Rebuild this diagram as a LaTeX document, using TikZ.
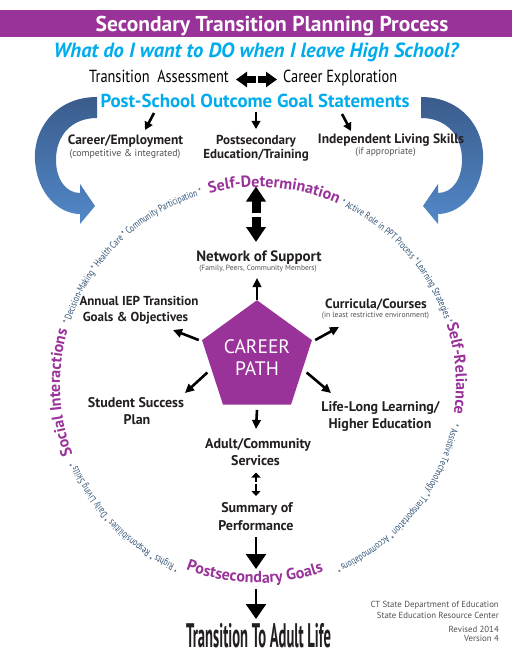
\documentclass[tikz,border=0pt]{standalone}
\usepackage{graphicx}
\usepackage{fontspec}
\setmainfont{PT Sans}
\newfontfamily\condfont[FakeStretch=0.75]{PT Sans}
\newfontfamily\narrowfont[FakeStretch=0.82]{PT Sans}
\usetikzlibrary{shapes.geometric,arrows.meta,decorations.text}
\definecolor{cpurple}{RGB}{153,51,153}
\definecolor{ccyan}{RGB}{0,172,236}
\definecolor{ringblue}{RGB}{45,80,115}
\definecolor{darktext}{RGB}{35,31,32}
\definecolor{subgray}{RGB}{80,80,82}
\definecolor{bluetop}{RGB}{58,92,140}
\definecolor{bluebot}{RGB}{82,136,200}
\newcommand\ringbig{\bfseries\fontsize{16}{18}\selectfont\color{cpurple}}
\newcommand\ringsmall{\condfont\fontsize{10}{11}\selectfont\color{ringblue}}
\tikzset{
  lbl/.style={font=\bfseries\fontsize{13.5}{16}\selectfont, text=darktext, inner sep=0pt, anchor=base},
  sublbl/.style={font=\fontsize{9.8}{11}\selectfont, text=subgray, inner sep=0pt, anchor=base},
  tinylbl/.style={font=\fontsize{7.5}{9}\selectfont, text=subgray, inner sep=0pt, anchor=base},
  sarr/.style={line width=2.6pt, -{Triangle[length=8pt,width=8.5pt]}},
  parr/.style={line width=2.6pt, -{Triangle[length=9pt,width=8.5pt]}},
  blockarr/.style={line width=9pt, -{Triangle[length=15pt,width=19pt]}},
  midarr/.style={line width=7pt, -{Triangle[length=11pt,width=15pt]}},
  bigdown/.style={line width=2.6pt, -{Triangle[length=15pt,width=20pt]}},
  smalldbl/.style={line width=2pt, -{Triangle[length=5pt,width=9pt]}},
  ringdec/.style={decorate, decoration={text along path, text align=center, text={#1}}},
  footer/.style={font=\fontsize{8.8}{10}\selectfont, text=subgray, inner sep=0pt, anchor=base east}
}
\begin{document}
\begin{tikzpicture}[x=1pt,y=1pt]
\useasboundingbox (0,0) rectangle (512,-663);
\fill[white] (0,0) rectangle (512,-663);

% banner
\fill[cpurple] (0,-10) rectangle (512,-37);
\node[font=\bfseries\fontsize{21.5}{24}\selectfont, text=white, inner sep=0pt, anchor=base] (title) at (272,-31.8) {Secondary Transition Planning Process};

% question
\node[font=\bfseries\itshape\fontsize{20.5}{23}\selectfont, text=ccyan, inner sep=0pt, anchor=base] (question) at (256,-57.3) {What do I want to DO when I leave High School?};

% assessment / exploration
\node[font=\narrowfont\fontsize{17.5}{20}\selectfont, text=black, inner sep=0pt, anchor=base east] (ta) at (229,-82.5) {Transition\ \ Assessment};
\node[font=\narrowfont\fontsize{17.5}{20}\selectfont, text=black, inner sep=0pt, anchor=base west] (cx) at (283,-82.5) {Career Exploration};
\coordinate (dblmid) at (256.5,-79.5);
\coordinate (dblL) at (236,-79.5);
\coordinate (dblR) at (277,-79.5);
\draw[midarr] ([xshift=-1pt]dblmid) -- (dblL);
\draw[midarr] ([xshift=1pt]dblmid) -- (dblR);

% post-school
\node[font=\bfseries\fontsize{18.8}{21}\selectfont, text=ccyan, inner sep=0pt, anchor=base] (ps) at (255,-107.3) {Post-School Outcome Goal Statements};

% blue curved arrows
\shade[top color=bluetop, bottom color=bluebot]
  (97,-97) .. controls (55,-97) and (33,-130) .. (35,-160)
  .. controls (37,-195) and (60,-214) .. (80,-214)
  -- (80,-224) -- (95,-206) -- (80,-184) -- (80,-193)
  .. controls (65,-193) and (56,-178) .. (56,-160)
  .. controls (56,-135) and (72,-118) .. (97,-118) -- cycle;
\shade[top color=bluetop, bottom color=bluebot]
  (421,-97) .. controls (463,-97) and (485,-130) .. (483,-160)
  .. controls (481,-195) and (458,-214) .. (438,-214)
  -- (438,-224) -- (423,-206) -- (438,-184) -- (438,-193)
  .. controls (453,-193) and (462,-178) .. (462,-160)
  .. controls (462,-135) and (446,-118) .. (421,-118) -- cycle;

% three outcome labels
\node[lbl] (ce) at (125.5,-145) {Career/Employment};
\node[sublbl] (cesub) at (125,-157) {(competitive \& integrated)};
\node[lbl, font=\bfseries\fontsize{13}{15}\selectfont] (pe1) at (256,-145) {Postsecondary};
\node[lbl, font=\bfseries\fontsize{13}{15}\selectfont] (pe2) at (256,-158) {Education/Training};
\node[lbl] (ils) at (391,-144) {Independent Living Skills};
\node[sublbl, font=\fontsize{9.5}{11}\selectfont] (ilssub) at (385.5,-155) {(if appropriate)};

\coordinate (a1t) at (154,-113);
\coordinate (a1h) at (145,-130);
\coordinate (a2t) at (256,-112);
\coordinate (a2h) at (256,-129);
\coordinate (a3t) at (342,-114);
\coordinate (a3h) at (351,-131);
\draw[sarr] (a1t) -- (a1h);
\draw[sarr] (a2t) -- (a2h);
\draw[sarr] (a3t) -- (a3h);

% ring texts
\coordinate (c) at (258,-385);
\def\R{198}
\path[ringdec={|\ringbig|Self-Determination}] (c) ++(108:\R) arc[start angle=108,end angle=62.5,radius=\R];
\path[ringdec={|\ringsmall|* Active Role in PPT Process * Learning Strategies *}] (c) ++(66:\R) arc[start angle=66,end angle=17.4,radius=\R];
\path[ringdec={|\ringbig|Self-Reliance}] (c) ++(21:\R) arc[start angle=21,end angle=-11.6,radius=\R];
\path[ringdec={|\ringsmall|* Assistive Technology * Transportation * Accommodations *}] (c) ++(-8:\R) arc[start angle=-8,end angle=-70,radius=\R];
\path[ringdec={|\ringbig|Postsecondary Goals}] (c) ++(-115:\R) arc[start angle=-115,end angle=-67,radius=\R];
\path[ringdec={|\ringsmall|* Rights * Responsibilities * Daily Living Skills *}] (c) ++(249:\R) arc[start angle=249,end angle=200.3,radius=\R];
\path[ringdec={|\ringbig|Social Interactions}] (c) ++(204:\R) arc[start angle=204,end angle=160.5,radius=\R];
\path[ringdec={|\ringsmall|* Decision-Making * Health Care * Community Participation *}] (c) ++(164.2:\R) arc[start angle=164.2,end angle=104.5,radius=\R];

% self-determination / network double block arrow
\coordinate (sdtip) at (256,-186.5);
\coordinate (nettip) at (256,-242);
\coordinate (sdmid) at (256,-215);
\draw[blockarr] ([yshift=2pt]sdmid) -- (sdtip);
\draw[blockarr] ([yshift=-2pt]sdmid) -- (nettip);

% network
\node[lbl, font=\bfseries\fontsize{15}{17}\selectfont] (net) at (259,-261) {Network of Support};
\node[tinylbl] (netsub) at (258,-270) {(Family, Peers, Community Members)};

% pentagon
\node[regular polygon, regular polygon sides=5, minimum size=92pt, inner sep=0pt, fill=cpurple,
      text=white, align=center, font=\fontsize{19.5}{22}\selectfont] (cp) at (257,-358) {CAREER\\PATH};

% surrounding labels
\node[lbl, font=\bfseries\fontsize{13}{15}\selectfont] (aiep1) at (139,-305) {Annual IEP Transition};
\node[lbl, font=\bfseries\fontsize{13}{15}\selectfont] (aiep2) at (135.5,-321) {Goals \& Objectives};
\node[lbl] (cc) at (376,-308) {Curricula/Courses};
\node[tinylbl, font=\fontsize{7.7}{8}\selectfont] (ccsub) at (375.5,-317) {(in least restrictive environment)};
\node[lbl, font=\bfseries\fontsize{14}{16}\selectfont] (ssp1) at (136,-407) {Student Success};
\node[lbl, font=\bfseries\fontsize{14}{16}\selectfont] (ssp2) at (137,-424) {Plan};
\node[lbl, font=\bfseries\fontsize{14}{16}\selectfont] (lll1) at (380.5,-411) {Life-Long Learning/};
\node[lbl, font=\bfseries\fontsize{14}{16}\selectfont] (lll2) at (380,-428) {Higher Education};
\node[lbl, font=\bfseries\fontsize{14}{16}\selectfont] (acs1) at (258,-448) {Adult/Community};
\node[lbl, font=\bfseries\fontsize{14}{16}\selectfont] (acs2) at (255.5,-465) {Services};
\node[lbl, font=\bfseries\fontsize{14}{16}\selectfont] (sop1) at (257,-512) {Summary of};
\node[lbl, font=\bfseries\fontsize{14}{16}\selectfont] (sop2) at (256,-530) {Performance};

% arrows from career path
\coordinate (tipN) at (257,-278);
\coordinate (tipUL) at (173,-330);
\coordinate (tipLL) at (185,-393);
\coordinate (tipUR) at (339,-327);
\coordinate (tipLR) at (331,-393);
\coordinate (tipS) at (256,-429);
\draw[parr] (cp.corner 1) -- (tipN);
\draw[parr] ([xshift=-3pt]cp.corner 2) -- (tipUL);
\draw[parr] ([xshift=-5pt]cp.side 2) -- (tipLL);
\draw[parr] ([xshift=3pt]cp.corner 5) -- (tipUR);
\draw[parr] ([xshift=5pt]cp.side 4) -- (tipLR);
\draw[parr] ([yshift=-5pt]cp.side 3) -- (tipS);

% adult services <-> summary
\coordinate (smid) at (256,-482.5);
\coordinate (stop) at (256,-472.5);
\coordinate (sbot) at (256,-496);
\draw[smalldbl] ([yshift=1pt]smid) -- (stop);
\draw[smalldbl] ([yshift=-1pt]smid) -- (sbot);

% down arrows
\coordinate (d1t) at (256,-537);
\coordinate (d1h) at (256,-569);
\coordinate (d2t) at (256,-589);
\coordinate (d2h) at (256,-619);
\draw[bigdown] (d1t) -- (d1h);
\draw[bigdown] (d2t) -- (d2h);

\node[inner sep=0pt, anchor=base, text=darktext] (adult) at (258.5,-647) {\scalebox{0.43}[1]{\bfseries\fontsize{34}{34}\selectfont Transition To Adult Life}};

% footer
\node[footer] (f1) at (499,-607.7) {CT State Department of Education};
\node[footer] (f2) at (499,-618) {State Education Resource Center};
\node[footer] (f3) at (499,-632.7) {Revised 2014};
\node[footer] (f4) at (499,-641.7) {Version 4};
\end{tikzpicture}
\end{document}
